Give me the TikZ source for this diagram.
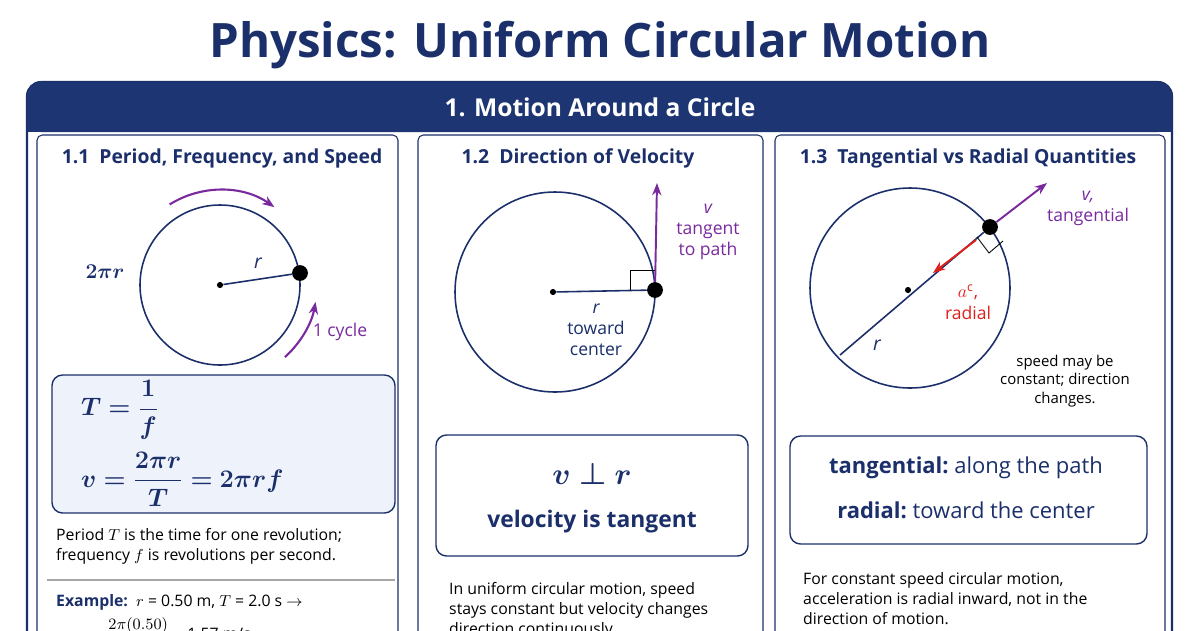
\documentclass[tikz,border=0pt]{standalone}
\usepackage{fontspec}
\setmainfont{Open Sans}
\usepackage{amsmath,bm}
\usepackage{tikz}
\usetikzlibrary{calc, arrows.meta, positioning}
\definecolor{navy}{HTML}{1B2F6B}
\definecolor{band}{HTML}{1D3573}
\definecolor{vpurple}{HTML}{7A2A9E}
\definecolor{ared}{HTML}{E0201B}
\definecolor{boxfill}{HTML}{EEF2FA}
\begin{document}
\begin{tikzpicture}[
        x=0.02cm, y=-0.02cm,
        col/.style={draw=navy, line width=0.6pt, rounded corners=3pt},
        head/.style={font=\bfseries\fontsize{11}{13}\selectfont, text=navy},
        body/.style={font=\fontsize{9}{11.5}\selectfont, align=left, text=black},
        fbox/.style={draw=navy, line width=0.8pt, rounded corners=6pt, fill=boxfill},
        circ/.style={draw=navy, line width=0.9pt},
        ball/.style={circle, fill=black, inner sep=0pt, minimum size=9pt},
        dot/.style={circle, fill=black, inner sep=0pt, minimum size=3.5pt},
        vel/.style={-{Stealth[length=7pt]}, vpurple, line width=1.1pt},
        acc/.style={-{Stealth[length=7pt]}, ared, line width=1.1pt},
        lbl/.style={font=\fontsize{9}{10.5}\selectfont, align=center}
    ]
        \useasboundingbox (0,0) rectangle (1200,630);
        \fill[white] (0,0) rectangle (1200,630);
        % title and panel
        \node[font=\bfseries\fontsize{27}{30}\selectfont, text=navy] (title) at (600,45) {Physics: Uniform Circular Motion};
        \draw[navy, line width=1.2pt, rounded corners=8pt] (27,700) -- (27,82) -- (1172,82) -- (1172,700);
        \fill[band, rounded corners=8pt] (27,82) rectangle (1172,132);
        \fill[band] (27,110) rectangle (1172,132);
        \node[font=\bfseries\fontsize{14}{16}\selectfont, text=white] (band) at (600,107) {1. Motion Around a Circle};
        \draw[col] (37,700) -- (37,135) -- (398,135) -- (398,700);
        \draw[col] (418,700) -- (418,135) -- (763,135) -- (763,700);
        \draw[col] (775,700) -- (775,135) -- (1165,135) -- (1165,700);

        % 1.1
        \node[head] (h1) at (222,158) {1.1\ \ Period, Frequency, and Speed};
        \draw[circ] (220,285) circle (80);
        \node[dot] (c1) at (220,285) {};
        \node[ball] (b1) at (300,273) {};
        \draw[navy, line width=0.9pt] (c1) -- (b1);
        \node[font=\itshape\fontsize{11}{12}\selectfont, text=navy] (r1) at (258,263) {r};
        \node[font=\bfseries\fontsize{13}{14}\selectfont, text=navy] (circum) at (105,272) {$\bm{2\pi r}$};
        \coordinate (a1s) at ($(220,285)+(-122:95)$);
        \draw[vel, line width=1.2pt] (a1s) arc[start angle=-122, end angle=-55, radius=95];
        \coordinate (a2s) at ($(220,285)+(48:97)$);
        \draw[vel, line width=1.2pt] (a2s) arc[start angle=48, end angle=10, radius=97];
        \node[lbl, text=vpurple, font=\fontsize{10}{12}\selectfont] (cyc) at (340,332) {1 cycle};

        \draw[fbox] (52,375) rectangle (395,513);
        \node[text=navy, font=\fontsize{14}{17}\selectfont, anchor=west] (eq1) at (75,410) {$\bm{T=\dfrac{1}{f}}$};
        \node[text=navy, font=\fontsize{14}{17}\selectfont, anchor=west] (eq2) at (75,479) {$\bm{v=\dfrac{2\pi r}{T}=2\pi r f}$};
        \node[body, anchor=north west] (t1) at (50,522) {Period $T$ is the time for one revolution;\\frequency $f$ is revolutions per second.};
        \draw[gray!70, line width=0.6pt] (47,580) -- (395,580);
        \node[body, anchor=west] (ex) at (50,602) {\textcolor{navy}{\bfseries Example:}\ \ $r$ = 0.50 m, $T$ = 2.0 s $\rightarrow$};
        \node[body, anchor=west] (ex2) at (70,634) {$v=\dfrac{2\pi(0.50)}{2.0}$ = 1.57 m/s};

        % 1.2
        \node[head] (h2) at (578,158) {1.2\ \ Direction of Velocity};
        \draw[circ] (555,292) circle (100);
        \node[dot] (c2) at (553,292) {};
        \node[ball] (b2) at (655,290) {};
        \draw[navy, line width=0.9pt] (c2) -- (b2);
        \coordinate (v2) at (657,183);
        \draw[vel] (b2) -- (v2);
        \draw[black, line width=0.5pt] (630,290) -- (630,270) -- (655,270);
        \node[lbl, text=vpurple, font=\fontsize{10}{12}\selectfont] (v2l) at (708,232) {\itshape v\\tangent\\to path};
        \node[lbl, text=navy, font=\fontsize{10}{12}\selectfont] (r2) at (596,330) {\itshape r\\\upshape toward\\center};
        \draw[fbox, fill=white] (436,435) rectangle (748,556);
        \node[text=navy, font=\bfseries\fontsize{19}{22}\selectfont] (perp) at (592,474) {$\bm{v\perp r}$};
        \node[text=navy, font=\bfseries\fontsize{13}{15}\selectfont] (tang) at (592,522) {velocity is tangent};
        \node[body, anchor=north west] (t2) at (443,576) {In uniform circular motion, speed\\stays constant but velocity changes\\direction continuously.};

        % 1.3
        \node[head] (h3) at (968,158) {1.3\ \ Tangential vs Radial Quantities};
        \draw[circ] (910,288) circle (100);
        \node[dot] (c3) at (908,290) {};
        \node[ball] (b3) at (990,227) {};
        \coordinate (e3) at (840,355);
        \draw[navy, line width=0.9pt] (b3) -- (e3);
        \coordinate (v3) at (1047,183);
        \draw[vel] (b3) -- (v3);
        \coordinate (as) at (976,240);
        \coordinate (ae) at (933,273);
        \draw[acc] (as) -- (ae);
        \draw[black, line width=0.5pt] (977,237) -- (989,253) -- (1003,241);
        \node[lbl, text=vpurple, font=\fontsize{10}{12}\selectfont] (v3l) at (1088,208) {\itshape v,\\\upshape tangential};
        \node[lbl, text=ared, font=\fontsize{10}{12}\selectfont] (a3l) at (968,302) {$a^{\mathrm{c}}$,\\radial};
        \node[font=\itshape\fontsize{11}{12}\selectfont, text=navy] (r3) at (877,345) {r};
        \node[lbl, font=\fontsize{8.5}{10.5}\selectfont] (note) at (1065,381) {speed may be\\constant; direction\\changes.};
        \draw[fbox, fill=white] (790,436) rectangle (1147,544);
        \node[text=navy, font=\fontsize{12.5}{15}\selectfont] (tq) at (966,468) {\bfseries tangential:\ \mdseries along the path};
        \node[text=navy, font=\fontsize{12.5}{15}\selectfont] (rq) at (966,510) {\bfseries radial:\ \mdseries toward the center};
        \node[body, anchor=north west] (t3) at (797,566) {For constant speed circular motion,\\acceleration is radial inward, not in the\\direction of motion.};
    \end{tikzpicture}
\end{document}
